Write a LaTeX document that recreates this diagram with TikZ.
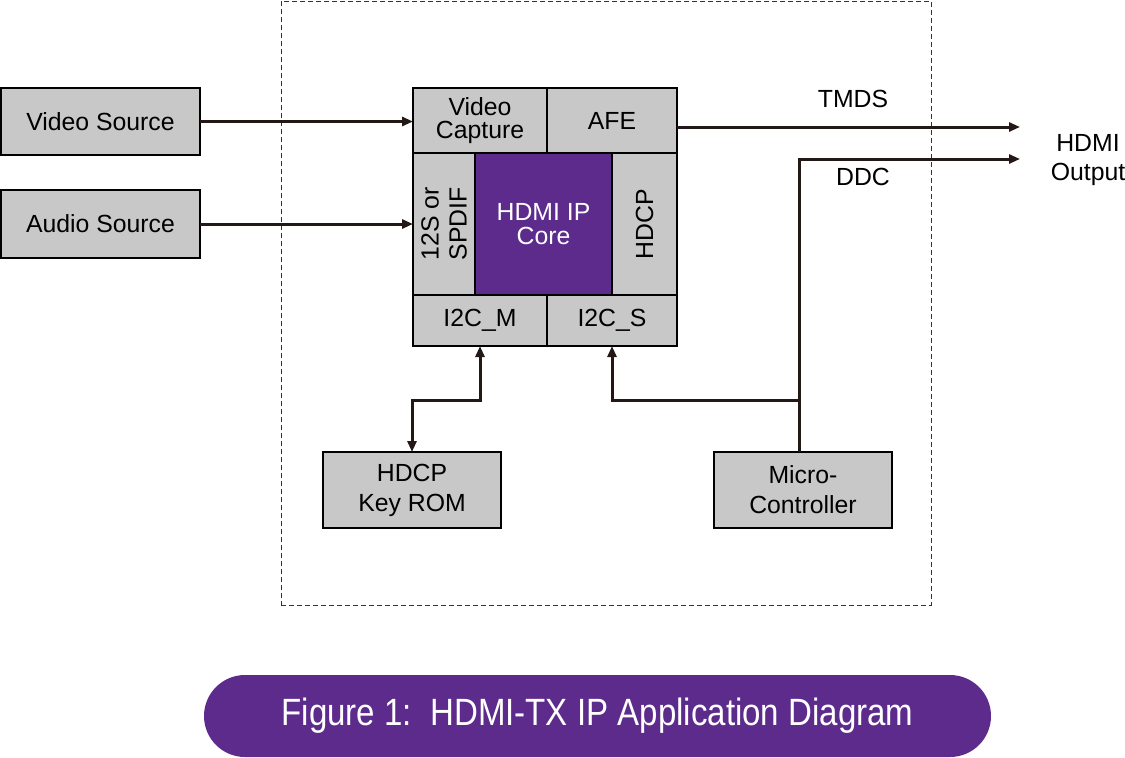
\documentclass[tikz,border=0pt]{standalone}
\usepackage{fontspec}
\setmainfont{Liberation Sans}
\newfontfamily\captionfont[FakeStretch=0.87]{Liberation Sans}
\usetikzlibrary{arrows.meta, positioning}
\definecolor{boxgray}{RGB}{200,200,200}
\definecolor{corepurple}{RGB}{92,43,139}
\definecolor{wiredark}{RGB}{35,24,21}

\begin{document}
\begin{tikzpicture}[
    x=0.5pt, y=-0.5pt,
    cell/.style={rectangle, draw=black, line width=0.9pt, fill=boxgray, inner sep=0pt, outer sep=0pt, align=center, font=\fontsize{12.4}{11.8}\selectfont},
    extbox/.style={cell, minimum width=89pt, minimum height=38pt, font=\fontsize{12.4}{15}\selectfont},
    sig/.style={inner sep=0pt, align=center, font=\fontsize{12.4}{14.5}\selectfont},
    outline/.style={rectangle, draw=black!80, line width=0.5pt, dash pattern=on 2.5pt off 1.5pt, inner sep=0pt},
    pill/.style={rectangle, fill=corepurple, text=white, rounded corners=20.5pt, inner sep=0pt, font=\captionfont\fontsize{19}{20}\selectfont},
    arrow/.style={-{Triangle[length=5.5pt, width=4.5pt]}, line width=1.5pt, draw=wiredark},
    biarrow/.style={{Triangle[length=5.5pt, width=4.5pt]}-{Triangle[length=5.5pt, width=4.5pt]}, line width=1.5pt, draw=wiredark}
]
    \useasboundingbox (0,0) rectangle (1125,757);

    % Board outline
    \node[outline, minimum width=325pt, minimum height=302pt] (board) at (606,303) {};

    % Sources
    \node[cell, minimum width=99.5pt, minimum height=33.5pt] (vsrc) at (100.5,121.5) {Video Source};
    \node[cell, minimum width=99.5pt, minimum height=34pt] (asrc) at (100.5,224) {Audio Source};

    % HDMI-TX block
    \node[cell, minimum width=67pt, minimum height=32.5pt] (vcap) at (480,120.5) {Video\\Capture};
    \node[cell, minimum width=65pt, minimum height=32.5pt, right=0pt of vcap] (afe) {AFE};
    \node[cell, rotate=90, minimum width=71pt, minimum height=31pt, font=\fontsize{12.4}{14}\selectfont] (i2s) at (444,224) {12S or\\SPDIF};
    \node[cell, fill=corepurple, text=white, minimum width=68.5pt, minimum height=71pt] (core) at (543.5,224) {HDMI IP\\Core};
    \node[cell, rotate=90, minimum width=71pt, minimum height=32.5pt] (hdcp) at (644.5,224) {HDCP};
    \node[cell, minimum width=67pt, minimum height=25.5pt] (i2cm) at (480,320.5) {I2C\_M};
    \node[cell, minimum width=65pt, minimum height=25.5pt, right=0pt of i2cm] (i2cs) {I2C\_S};

    % Peripherals
    \node[extbox] (keyrom) at (412,490) {HDCP\\Key ROM};
    \node[extbox] (mcu) at (803,490) {Micro-\\Controller};

    % Output side
    \node[sig] (tmds) at (853,99) {TMDS};
    \node[sig] (ddc) at (863,177) {DDC};
    \node[sig] (hdmiout) at (1088,160) {HDMI\\Output};
    \coordinate (tmdsend) at (1020,127);
    \coordinate (ddcend) at (1020,159);
    \coordinate (busjoin) at (799,400);

    % Connections
    \draw[arrow] (vsrc.east) -- (vsrc.east -| vcap.west);
    \draw[arrow] (asrc.east) -- (asrc.east -| vcap.west);
    \draw[arrow] (afe.east |- tmdsend) -- (tmdsend);
    \draw[arrow] (busjoin |- mcu.north) |- (ddcend);
    \draw[arrow] (busjoin) -| (i2cs.south);
    \draw[biarrow] (i2cm.south) -- (i2cm.south |- busjoin) -| (keyrom.north);

    % Caption
    \node[pill, minimum width=393.5pt, minimum height=41pt] (caption) at (597.5,716) {Figure 1:\ \ HDMI-TX IP Application Diagram};
\end{tikzpicture}
\end{document}
